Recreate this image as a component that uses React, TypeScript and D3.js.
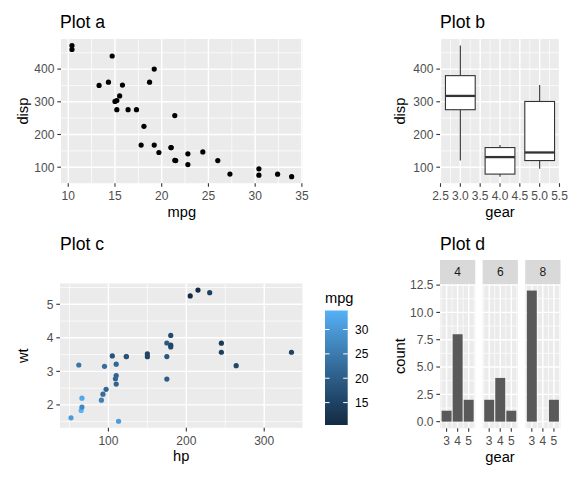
import React from "react";
import * as d3 from "d3";

// mtcars columns
const mpg = [21.0, 21.0, 22.8, 21.4, 18.7, 18.1, 14.3, 24.4, 22.8, 19.2, 17.8, 16.4, 17.3, 15.2, 10.4, 10.4, 14.7, 32.4, 30.4, 33.9, 21.5, 15.5, 15.2, 13.3, 19.2, 27.3, 26.0, 30.4, 15.8, 19.7, 15.0, 21.4];
const disp = [160, 160, 108, 258, 360, 225, 360, 146.7, 140.8, 167.6, 167.6, 275.8, 275.8, 275.8, 472, 460, 440, 78.7, 75.7, 71.1, 120.1, 318, 304, 350, 400, 79, 120.3, 95.1, 351, 145, 301, 121];
const hp = [110, 110, 93, 110, 175, 105, 245, 62, 95, 123, 123, 180, 180, 180, 205, 215, 230, 66, 52, 65, 97, 150, 150, 245, 175, 66, 91, 113, 264, 175, 335, 109];
const wt = [2.62, 2.875, 2.32, 3.215, 3.44, 3.46, 3.57, 3.19, 3.15, 3.44, 3.44, 4.07, 3.73, 3.78, 5.25, 5.424, 5.345, 2.2, 1.615, 1.835, 2.465, 3.52, 3.435, 3.84, 3.845, 1.935, 2.14, 1.513, 3.17, 2.77, 3.57, 2.78];
const gear = [4, 4, 4, 3, 3, 3, 3, 4, 4, 4, 4, 3, 3, 3, 3, 3, 3, 4, 4, 4, 3, 3, 3, 3, 3, 4, 5, 5, 5, 5, 5, 4];
const cyl = [6, 6, 4, 6, 8, 6, 8, 4, 4, 6, 6, 8, 8, 8, 8, 8, 8, 4, 4, 4, 4, 8, 8, 8, 8, 4, 4, 4, 8, 6, 8, 4];

// breaks / labels
const mpgTicks = [10, 15, 20, 25, 30, 35];
const dispTicks = [100, 200, 300, 400];
const gearTicksB = [2.5, 3, 3.5, 4, 4.5, 5, 5.5];
const hpTicks = [100, 200, 300];
const wtTicks = [2, 3, 4, 5];
const countTicks = [0, 2.5, 5, 7.5, 10, 12.5];
const gearLevels = [3, 4, 5];
const cylLevels = [4, 6, 8];
const legendTicks = [15, 20, 25, 30];
const titles = ["Plot a", "Plot b", "Plot c", "Plot d"];

const FONT = "'Liberation Sans', Arial, Helvetica, sans-serif";
const TICK = 3.67;
const TICK_FS = 12;

const expand = (lo: number, hi: number, m = 0.05) => {
  const d = (hi - lo) * m;
  return [lo - d, hi + d];
};

// ggplot-style minor breaks: halfway between majors, kept if inside the limits
const minorOf = (major: number[], dom: number[]) => {
  const step = major[1] - major[0];
  const out: number[] = [];
  for (let v = major[0] - step / 2; v <= major[major.length - 1] + step; v += step) {
    if (v >= dom[0] && v <= dom[1]) out.push(v);
  }
  return out;
};

const Grid = ({ x, y, xMajor, yMajor }: any) => {
  const [x0, x1] = x.range();
  const [yb, yt] = y.range();
  const xMinor = minorOf(xMajor, x.domain());
  const yMinor = minorOf(yMajor, y.domain());
  const inX = (v: number) => v >= x.domain()[0] && v <= x.domain()[1];
  const inY = (v: number) => v >= y.domain()[0] && v <= y.domain()[1];
  return (
    <g>
      <rect x={x0} y={yt} width={x1 - x0} height={yb - yt} fill="#EBEBEB" />
      {yMinor.map(v => <line key={"ym" + v} x1={x0} x2={x1} y1={y(v)} y2={y(v)} stroke="#fff" strokeWidth={0.7} />)}
      {xMinor.map(v => <line key={"xm" + v} y1={yt} y2={yb} x1={x(v)} x2={x(v)} stroke="#fff" strokeWidth={0.7} />)}
      {yMajor.filter(inY).map((v: number) => <line key={"yM" + v} x1={x0} x2={x1} y1={y(v)} y2={y(v)} stroke="#fff" strokeWidth={1.4} />)}
      {xMajor.filter(inX).map((v: number) => <line key={"xM" + v} y1={yt} y2={yb} x1={x(v)} x2={x(v)} stroke="#fff" strokeWidth={1.4} />)}
    </g>
  );
};

const XAxis = ({ x, ticks, fmt, y0 }: any) => (
  <g>
    {ticks.map((v: number) => (
      <g key={v}>
        <line x1={x(v)} x2={x(v)} y1={y0} y2={y0 + TICK} stroke="#333" strokeWidth={1.1} />
        <text x={x(v)} y={y0 + 16.9} textAnchor="middle" fontSize={TICK_FS} fill="#4D4D4D">{fmt ? fmt(v) : v}</text>
      </g>
    ))}
  </g>
);

const YAxis = ({ y, ticks, fmt, x0 }: any) => (
  <g>
    {ticks.map((v: number) => (
      <g key={v}>
        <line x1={x0 - TICK} x2={x0} y1={y(v)} y2={y(v)} stroke="#333" strokeWidth={1.1} />
        <text x={x0 - 6.6} y={y(v)} dy="0.36em" textAnchor="end" fontSize={TICK_FS} fill="#4D4D4D">{fmt ? fmt(v) : v}</text>
      </g>
    ))}
  </g>
);

const YTitle = ({ x, y, label }: any) => (
  <text transform={`translate(${x},${y}) rotate(-90)`} textAnchor="middle" fontSize={14.67} fill="#000">{label}</text>
);

export default function App() {
  const f1 = d3.format(".1f");

  // Plot a
  const ax = d3.scaleLinear().domain(expand(d3.min(mpg)!, d3.max(mpg)!)).range([61, 302.6]);
  const ay = d3.scaleLinear().domain(expand(d3.min(disp)!, d3.max(disp)!)).range([183.2, 39]);

  // Plot b
  const boxW = 0.75;
  const bx = d3.scaleLinear().domain(expand(3 - boxW / 2, 5 + boxW / 2)).range([440, 560]);
  const boxes = gearLevels.map(g => {
    const v = disp.filter((_, i) => gear[i] === g).sort(d3.ascending);
    const q1 = d3.quantile(v, 0.25)!, med = d3.quantile(v, 0.5)!, q3 = d3.quantile(v, 0.75)!;
    const iqr = q3 - q1;
    const lo = d3.min(v.filter(d => d >= q1 - 1.5 * iqr))!;
    const hi = d3.max(v.filter(d => d <= q3 + 1.5 * iqr))!;
    return { g, q1, med, q3, lo, hi };
  });

  // Plot c
  const cx = d3.scaleLinear().domain(expand(d3.min(hp)!, d3.max(hp)!)).range([60, 302.5]);
  const cy = d3.scaleLinear().domain(expand(d3.min(wt)!, d3.max(wt)!)).range([427.8, 283.5]);
  const mpgExt = d3.extent(mpg) as [number, number];
  const color = d3.scaleLinear<string>().domain(mpgExt).range(["#132B43", "#56B1F7"]).interpolate(d3.interpolateLab);
  const leg = d3.scaleLinear().domain(mpgExt).range([425, 310.5]);
  const stops = d3.range(0, 1.0001, 0.05);

  // Plot d
  const counts = d3.rollup(gear.map((g, i) => ({ g, c: cyl[i] })), v => v.length, d => d.c, d => d.g);
  const maxCount = d3.max(Array.from(counts.values()).flatMap(m => Array.from(m.values())))!;
  const dy = d3.scaleLinear().domain(expand(0, maxCount)).range([428.2, 284]);
  const facet = d3.scaleBand<number>().domain(cylLevels).range([440, 560.5]).paddingInner(7.33 / 42.5);
  const barW = 0.9;

  return (
    <svg width={576} height={480} style={{ position: "absolute", left: 0, top: 0 }} fontFamily={FONT}>
      <rect width={576} height={480} fill="#fff" />

      {/* Plot a */}
      <Grid x={ax} y={ay} xMajor={mpgTicks} yMajor={dispTicks} />
      {mpg.map((m, i) => <circle key={i} cx={ax(m)} cy={ay(disp[i])} r={2.6} fill="#000" />)}
      <XAxis x={ax} ticks={mpgTicks} y0={183.2} />
      <YAxis y={ay} ticks={dispTicks} x0={61} />
      <text x={(61 + 302.6) / 2} y={216.5} textAnchor="middle" fontSize={14.67}>mpg</text>
      <YTitle x={28} y={(39 + 183.2) / 2} label="disp" />
      <text x={60} y={28.3} fontSize={17.6}>{titles[0]}</text>

      {/* Plot b */}
      <Grid x={bx} y={ay} xMajor={gearTicksB} yMajor={dispTicks} />
      {boxes.map(b => (
        <g key={b.g} stroke="#333" fill="none">
          <line x1={bx(b.g)} x2={bx(b.g)} y1={ay(b.hi)} y2={ay(b.q3)} strokeWidth={1.1} />
          <line x1={bx(b.g)} x2={bx(b.g)} y1={ay(b.q1)} y2={ay(b.lo)} strokeWidth={1.1} />
          <rect x={bx(b.g - boxW / 2)} width={bx(b.g + boxW / 2) - bx(b.g - boxW / 2)} y={ay(b.q3)} height={ay(b.q1) - ay(b.q3)} fill="#fff" strokeWidth={1.1} />
          <line x1={bx(b.g - boxW / 2)} x2={bx(b.g + boxW / 2)} y1={ay(b.med)} y2={ay(b.med)} strokeWidth={2.3} />
        </g>
      ))}
      <XAxis x={bx} ticks={gearTicksB} fmt={f1} y0={183.2} />
      <YAxis y={ay} ticks={dispTicks} x0={440} />
      <text x={500} y={216.5} textAnchor="middle" fontSize={14.67}>gear</text>
      <YTitle x={405} y={(39 + 183.2) / 2} label="disp" />
      <text x={440} y={28.3} fontSize={17.6}>{titles[1]}</text>

      {/* Plot c */}
      <Grid x={cx} y={cy} xMajor={hpTicks} yMajor={wtTicks} />
      {hp.map((h, i) => <circle key={i} cx={cx(h)} cy={cy(wt[i])} r={2.6} fill={color(mpg[i])} />)}
      <XAxis x={cx} ticks={hpTicks} y0={427.8} />
      <YAxis y={cy} ticks={wtTicks} x0={60} />
      <text x={(60 + 302.5) / 2} y={461} textAnchor="middle" fontSize={14.67}>hp</text>
      <YTitle x={28} y={(283.5 + 427.8) / 2} label="wt" />
      <text x={60} y={250} fontSize={17.6}>{titles[2]}</text>

      {/* legend */}
      <defs>
        <linearGradient id="mpgGrad" x1="0" y1="1" x2="0" y2="0">
          {stops.map(t => <stop key={t} offset={t} stopColor={color(mpgExt[0] + t * (mpgExt[1] - mpgExt[0]))} />)}
        </linearGradient>
      </defs>
      <text x={325} y={303.3} fontSize={14.67}>mpg</text>
      <rect x={325} y={leg(mpgExt[1])} width={22.7} height={leg(mpgExt[0]) - leg(mpgExt[1])} fill="url(#mpgGrad)" />
      {legendTicks.map(v => (
        <g key={v}>
          <line x1={325} x2={329.5} y1={leg(v)} y2={leg(v)} stroke="#fff" strokeWidth={1} />
          <line x1={343.2} x2={347.7} y1={leg(v)} y2={leg(v)} stroke="#fff" strokeWidth={1} />
          <text x={355} y={leg(v)} dy="0.36em" fontSize={TICK_FS} fill="#000">{v}</text>
        </g>
      ))}

      {/* Plot d */}
      {cylLevels.map(c => {
        const x0 = facet(c)!;
        const fx = d3.scaleLinear().domain(expand(3 - barW / 2, 5 + barW / 2)).range([x0, x0 + facet.bandwidth()]);
        const m = counts.get(c)!;
        return (
          <g key={c}>
            <rect x={x0} y={260} width={facet.bandwidth()} height={24} fill="#D9D9D9" />
            <text x={x0 + facet.bandwidth() / 2} y={272} dy="0.36em" textAnchor="middle" fontSize={TICK_FS} fill="#1A1A1A">{c}</text>
            <Grid x={fx} y={dy} xMajor={gearLevels} yMajor={countTicks} />
            {gearLevels.filter(g => m.has(g)).map(g => (
              <rect key={g} x={fx(g - barW / 2)} width={fx(g + barW / 2) - fx(g - barW / 2)} y={dy(m.get(g)!)} height={dy(0) - dy(m.get(g)!)} fill="#595959" />
            ))}
            <XAxis x={fx} ticks={gearLevels} y0={428.2} />
          </g>
        );
      })}
      <YAxis y={dy} ticks={countTicks} fmt={f1} x0={440} />
      <text x={500} y={461.5} textAnchor="middle" fontSize={14.67}>gear</text>
      <YTitle x={405} y={(284 + 428.2) / 2} label="count" />
      <text x={440} y={250} fontSize={17.6}>{titles[3]}</text>
    </svg>
  );
}
